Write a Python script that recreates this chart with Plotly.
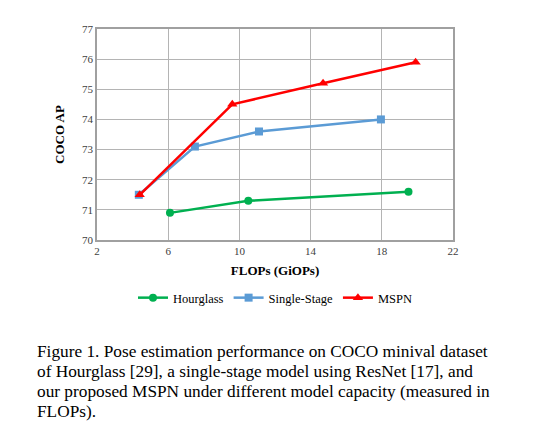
import plotly.graph_objects as go

# Данные
hg_x = [6.1, 10.5, 19.5]
hg_y = [70.9, 71.3, 71.6]
ss_x = [4.35, 7.5, 11.1, 17.95]
ss_y = [71.5, 73.1, 73.6, 74.0]
mspn_x = [4.4, 9.6, 14.7, 19.9]
mspn_y = [71.5, 74.5, 75.2, 75.9]

caption_lines = [
    "Figure 1. Pose estimation performance on COCO minival dataset",
    "of Hourglass [29], a single-stage model using ResNet [17], and",
    "our proposed MSPN under different model capacity (measured in",
    "FLOPs).",
]

font_name = "Times New Roman, Liberation Serif, serif"
grid_c = "#b4b4b4"
tick_font = dict(family=font_name, size=11, color="#404040")
title_font = dict(family=font_name, size=13, color="black")

fig = go.Figure()
fig.add_trace(go.Scatter(x=hg_x, y=hg_y, name="Hourglass", mode="lines+markers",
                         line=dict(color="#00b050", width=2.5),
                         marker=dict(symbol="circle", size=8)))
fig.add_trace(go.Scatter(x=ss_x, y=ss_y, name="Single-Stage", mode="lines+markers",
                         line=dict(color="#5b9bd5", width=2.5),
                         marker=dict(symbol="square", size=8)))
fig.add_trace(go.Scatter(x=mspn_x, y=mspn_y, name="MSPN", mode="lines+markers",
                         line=dict(color="#ff0000", width=2.5),
                         marker=dict(symbol="triangle-up", size=9)))

fig.update_xaxes(range=[2, 22], tickvals=[2, 6, 10, 14, 18, 22],
                 showgrid=True, gridcolor=grid_c, gridwidth=1,
                 showline=True, linecolor="#a0a0a0", linewidth=1.5, mirror=True,
                 zeroline=False, ticks="", tickfont=tick_font,
                 title=dict(text="<b>FLOPs (GiOPs)</b>", font=title_font, standoff=10))
fig.update_yaxes(range=[70, 77], dtick=1,
                 showgrid=True, gridcolor=grid_c, gridwidth=1,
                 showline=True, linecolor="#a0a0a0", linewidth=1.5, mirror=True,
                 zeroline=False, ticks="", tickfont=tick_font,
                 title=dict(text="<b>COCO AP</b>", font=title_font, standoff=14))

# подпись под рисунком
for i, line in enumerate(caption_lines):
    fig.add_annotation(text=line, xref="paper", yref="paper",
                       x=(35 - 97) / 356, y=(240 - 340 - 20 * i) / 211,
                       xanchor="left", yanchor="top", showarrow=False,
                       font=dict(family=font_name, size=17.3, color="black"))

fig.update_layout(
    template="none",
    width=554, height=433,
    margin=dict(l=89, r=109, t=21, b=201),
    paper_bgcolor="white", plot_bgcolor="white",
    font=dict(family=font_name, color="black"),
    showlegend=True,
    legend=dict(orientation="h", x=0.5, xanchor="center", y=-0.275, yanchor="middle",
                font=dict(family=font_name, size=12.5, color="black"),
                itemwidth=30, tracegroupgap=0),
)

fig.write_html("out.html")
